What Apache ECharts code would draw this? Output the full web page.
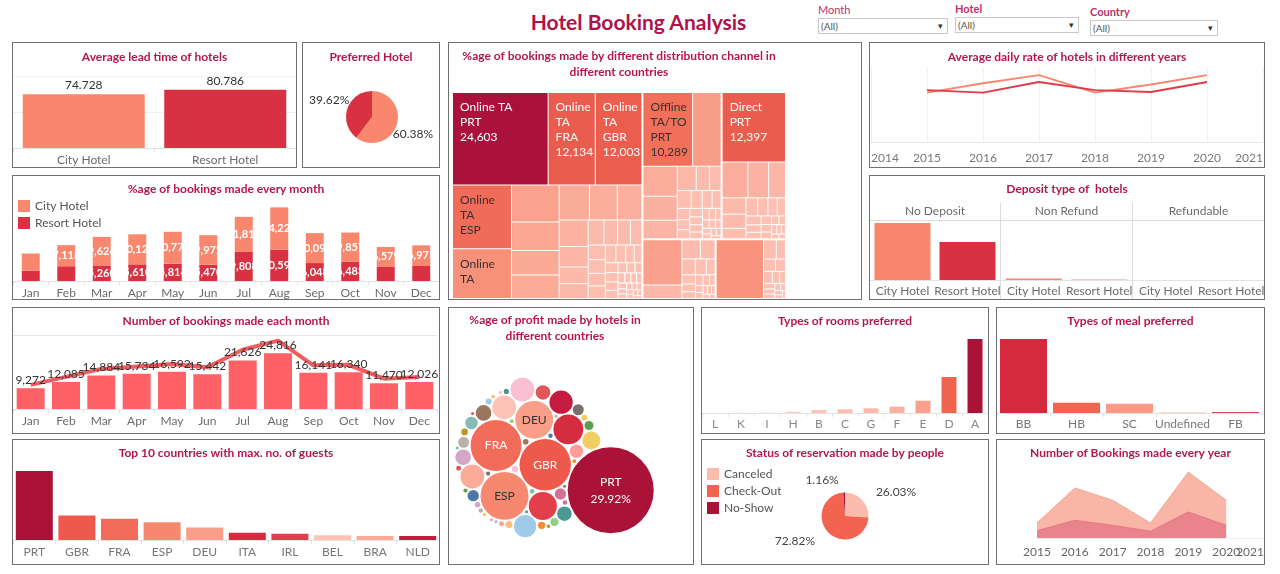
<!DOCTYPE html>
<html>
<head>
<meta charset="utf-8">
<script src="https://cdn.jsdelivr.net/npm/echarts@6/dist/echarts.min.js"></script>
<style>
  body { margin:0; width:1280px; height:574px; background:#fff; position:relative; overflow:hidden; font-family: Lato, "Noto Sans", sans-serif; }
  .panel { position:absolute; border:1px solid #707070; box-sizing:border-box; background:#fff; }
  .panel .c { position:absolute; left:0; top:0; right:0; bottom:0; }
  #title { position:absolute; left:0; width:1277px; top:9px; height:26px; line-height:26px; text-align:center; font-size:21px; font-weight:bold; color:#b0124a; }
  .flab { position:absolute; font-size:11px; color:#c0306a; }
  .fbox { position:absolute; border:1px solid #c8c8c8; box-sizing:border-box; font-size:10px; color:#555; padding-left:2px; line-height:14px; }
  .fbox span { position:absolute; right:4px; top:0; font-size:9px; color:#333; }
</style>
</head>
<body>
<div id="title">Hotel Booking Analysis</div>
<div class="flab" style="left:818px;top:3px">Month</div>
<div class="fbox" style="left:818px;top:18px;width:130px;height:16px">(All)<span>&#9662;</span></div>
<div class="flab" style="left:955px;top:2px;font-weight:bold">Hotel</div>
<div class="fbox" style="left:955px;top:17px;width:124px;height:16px">(All)<span>&#9662;</span></div>
<div class="flab" style="left:1090px;top:5px;font-weight:bold">Country</div>
<div class="fbox" style="left:1090px;top:20px;width:128px;height:16px">(All)<span>&#9662;</span></div>

<script>
// ---- data ----
const hotels = ['City Hotel', 'Resort Hotel'];
const leadTime = [74.728, 80.786];
const preferShare = [60.38, 39.62];

const adrYears = [2015, 2016, 2017, 2018, 2019, 2020];
const adrCity = [79, 94, 107, 79, 92, 107];
const adrResort = [83, 79, 96, 83, 80, 96];

const months = ['Jan','Feb','Mar','Apr','May','Jun','Jul','Aug','Sep','Oct','Nov','Dec'];
const cityMonth = [5802, 7118, 9624, 10124, 10778, 9972, 11818, 14224, 10093, 9857, 6579, 6971];
const resortMonth = [3470, 4967, 5260, 5610, 5814, 5470, 9808, 10592, 6048, 6483, 4891, 5055];
const monthBookings = [9272, 12085, 14884, 15734, 16592, 15442, 21626, 24816, 16141, 16340, 11470, 12026];

const depositTypes = ['No Deposit', 'Non Refund', 'Refundable'];
const depositCity = [66500, 1750, 60];
const depositResort = [44300, 300, 140];

const channels = ['Online TA', 'Offline TA/TO', 'Direct', 'Groups', 'Corporate'];
const onlineTaCountries = ['PRT','FRA','GBR','ESP','DEU','ITA','BEL','IRL','NLD','BRA','USA','CHE','CN','AUT','SWE','CHN','POL','ISR','RUS','NOR','ROU','FIN','DNK','AUS','LUX','AGO','TUR','HUN','JPN','ARG','GRC','CZE','KOR','IND','HRV','MAR','ZAF','MEX','LTU','EST','SRB','COL','IRN','CHL','NZL','SVN','UKR','DZA','LVA','SVK'];
const onlineTaBookings = [24603,12134,12003,10480,8150,4900,3800,3250,3100,2950,2700,2400,2150,1650,1350,1200,1100,950,900,800,700,650,600,600,520,480,420,380,350,330,300,290,250,230,200,190,170,160,150,140,120,110,100,95,90,85,80,75,70,65];
const offlineCountries = ['PRT','GBR','FRA','ESP','DEU','ITA','BEL','NLD','IRL','USA','CHE','AUT','SWE','POL','BRA','CN','RUS','NOR','ISR','DNK','FIN','ROU','LUX','JPN','CHN','AUS','HUN','GRC','CZE','TUR'];
const offlineBookings = [10289,5900,2900,2300,1800,1300,900,800,700,550,500,450,400,350,320,300,280,260,240,220,200,180,160,150,140,130,120,110,100,90];
const directCountries = ['PRT','ESP','FRA','GBR','DEU','ITA','IRL','BEL','NLD','USA','BRA','CHE','AUT','CN','SWE','POL','RUS','NOR','ISR','DNK','FIN','AUS','ROU','LUX'];
const directBookings = [12397,2600,2100,1700,1100,950,700,600,520,480,420,380,320,280,250,220,200,180,160,140,120,110,100,90];
const groupsCountries = ['PRT','ESP','FRA','GBR','DEU','ITA','BEL','NLD','IRL','BRA','USA','CHE','AUT','POL','RUS','CN','SWE','NOR','AGO','ROU'];
const groupsBookings = [5000,1500,1000,800,600,500,400,350,300,260,230,200,170,150,130,110,100,90,80,70];
const corporateCountries = ['PRT','ESP','FRA','GBR','DEU','ITA','BEL','NLD','IRL','USA','CHE','BRA','AUT','SWE','POL','NOR'];
const corporateBookings = [7900,700,500,420,350,300,250,200,180,160,140,120,100,90,80,70];

const bubbleCountries = ['PRT','GBR','FRA','ESP','DEU','ITA','IRL','BEL','BRA','NLD','USA','CHE','CN','AUT','SWE','CHN','POL','ISR','RUS','NOR','ROU','FIN','DNK','AUS','LUX','AGO','TUR','HUN','JPN','ARG','GRC','CZE','KOR','IND','HRV','MAR','ZAF','MEX','LTU','EST','SRB','COL','IRN','CHL','NZL','SVN','UKR','DZA','LVA','SVK','CYP','TWN','ISL','BGR','SAU'];
const bubbleShare = [29.92,10.7,10.5,9.3,5.8,3.6,3.2,2.3,2.3,2.2,2.3,2.0,1.3,1.0,1.0,0.86,0.86,0.73,0.64,0.52,0.52,0.49,0.49,0.33,0.26,0.22,0.2,0.18,0.16,0.15,0.14,0.13,0.12,0.11,0.1,0.1,0.09,0.09,0.08,0.08,0.07,0.07,0.06,0.06,0.06,0.05,0.05,0.05,0.05,0.04,0.04,0.04,0.04,0.04,0.04];

const roomTypes = ['L','K','I','H','B','C','G','F','E','D','A'];
const roomBookings = [10, 200, 300, 1300, 3000, 3700, 4700, 6300, 12300, 36000, 74000];

const mealTypes = ['BB','HB','SC','Undefined','FB'];
const mealBookings = [92300, 12800, 11400, 1000, 1300];

const topCountries = ['PRT','GBR','FRA','ESP','DEU','ITA','IRL','BEL','BRA','NLD'];
const topGuests = [48000, 17100, 14800, 12400, 8700, 5100, 4400, 3300, 2800, 2800];

const statusNames = ['Canceled', 'Check-Out', 'No-Show'];
const statusShare = [26.03, 72.82, 1.16];

const yearLabels = ['2015', '2016', '2017', '2018', '2019', '2020', '2021'];
const yearResort = [7300, 17700, 12700, 6700, 26000, 12700];
const yearCity = [7700, 32300, 25000, 8300, 40000, 25000];

// ---- styling ----
const FONT = 'Lato, "Noto Sans", sans-serif';
const TITLE_COLOR = '#b5164f';
const AXIS_TXT = '#6b6b6b';
const CITY = '#f8876e', RESORT = '#d93141';
const countryColor = { PRT:'#ab1238', GBR:'#ef594b', FRA:'#f36c59', ESP:'#f78870', DEU:'#fa9e89',
  ITA:'#d52d3f', IRL:'#e33e4b', BEL:'#fdc3b6', BRA:'#fcab9a', NLD:'#c41c3e' };
const otherColors = ['#86bcb6','#d37295','#4e79a7','#bab0ac','#79706e','#59a14f','#8cd17d','#f28e2b',
  '#ffbe7d','#b6992d','#fabfd2','#a0cbe8','#f1ce63','#9d7660','#d4a6c8','#499894','#e15759','#ff9d9a'];
const mealColors = ['#d5293e','#f06450','#fb9b85','#fdcbc0','#e44650'];
const statusColors = ['#fcbcad','#f26450','#ab1238'];

function hex(c) { return [1,3,5].map(i => parseInt(c.slice(i, i+2), 16)); }
function ramp(stops, v) {
  if (v <= stops[0][0]) return stops[0][1];
  for (let i = 1; i < stops.length; i++) {
    if (v <= stops[i][0]) {
      const t = (v - stops[i-1][0]) / (stops[i][0] - stops[i-1][0]);
      const a = hex(stops[i-1][1]), b = hex(stops[i][1]);
      return 'rgb(' + a.map((x, k) => Math.round(x + (b[k]-x)*t)).join(',') + ')';
    }
  }
  return stops[stops.length-1][1];
}
const treeStops = [[0,'#fdc3b6'],[3000,'#fbab99'],[8000,'#f8937c'],[11000,'#f06450'],[25000,'#a8103a']];
const roomStops = [[0,'#fed3c8'],[6000,'#fcb1a1'],[12300,'#fba08c'],[36000,'#f06450'],[74000,'#ab1238']];

function mk(l, t, w, h) {
  const d = document.createElement('div');
  d.className = 'panel';
  d.style.cssText = `left:${l}px;top:${t}px;width:${w}px;height:${h}px`;
  const c = document.createElement('div');
  c.className = 'c';
  d.appendChild(c);
  document.body.appendChild(d);
  return echarts.init(c);
}
function title(text, top, left) {
  const t = { text, top, padding: 0, left: left == null ? 'center' : left,
    textStyle: { fontFamily: FONT, fontSize: 12, fontWeight: 'bold', color: TITLE_COLOR, lineHeight: 16 } };
  if (left != null) t.textAlign = 'center';
  return t;
}
function catAxis(data, extra) {
  return Object.assign({
    type: 'category', data,
    axisLine: { lineStyle: { color: '#e2e2e2' } },
    axisTick: { show: true, length: 4, lineStyle: { color: '#e2e2e2' } },
    axisLabel: { color: AXIS_TXT, fontSize: 12, fontFamily: FONT, margin: 6, interval: 0 }
  }, extra || {});
}
const hiddenY = (o) => Object.assign({ type: 'value', axisLabel: { show: false }, axisLine: { show: false }, axisTick: { show: false }, splitLine: { show: false } }, o || {});
const G = (o) => Object.assign({ outerBoundsMode: 'none', containLabel: false }, o);
const fmt = v => v.toLocaleString('en-US');
const legendStyle = { orient: 'vertical', left: 5, padding: 0, itemWidth: 12, itemHeight: 12, itemGap: 5, icon: 'rect',
  textStyle: { fontSize: 12, color: '#555', fontFamily: FONT } };

// 1. Average lead time
mk(12, 42, 285, 126).setOption({
  animation: false,
  title: title('Average lead time of hotels', 6),
  grid: G({ left: 0, right: 0, top: 33, bottom: 19 }),
  xAxis: catAxis(hotels),
  yAxis: hiddenY({ min: 0, max: 100, interval: 50, splitLine: { show: true, lineStyle: { color: '#f0f0f0' } } }),
  series: [{ type: 'bar', barWidth: 122,
    data: leadTime.map((v, i) => ({ value: v, itemStyle: { color: [CITY, RESORT][i] } })),
    label: { show: true, position: 'top', distance: 3, color: '#333', fontSize: 12, fontFamily: FONT } }]
});

// 2. Preferred hotel
mk(302, 42, 138, 126).setOption({
  animation: false,
  title: title('Preferred Hotel', 6),
  color: [CITY, RESORT],
  series: [{ type: 'pie', center: [69, 74], radius: 26, startAngle: 90, clockwise: true,
    data: hotels.map((n, i) => ({ name: n, value: preferShare[i] })),
    label: { formatter: p => p.value.toFixed(2) + '%', fontSize: 12, color: '#333', fontFamily: FONT,
      alignTo: 'edge', edgeDistance: 6, overflow: 'none' },
    labelLine: { show: false, length: 26, length2: 0 } }]
});

// 3. Treemap
const chanCountries = [onlineTaCountries, offlineCountries, directCountries, groupsCountries, corporateCountries];
const chanBookings = [onlineTaBookings, offlineBookings, directBookings, groupsBookings, corporateBookings];
const treeData = channels.map((ch, i) => ({
  name: ch,
  children: chanCountries[i].map((c, j) => {
    const v = chanBookings[i][j];
    return { name: c, value: v, itemStyle: { color: ramp(treeStops, v) },
      label: { color: v >= 11000 ? '#fff' : '#333' } };
  })
}));
mk(448, 42, 414, 258).setOption({
  animation: false,
  title: title('%age of bookings made by different distribution channel in\ndifferent countries', 5, 170),
  series: [{ type: 'treemap', left: 4, top: 50, width: 332, height: 205,
    roam: false, nodeClick: false, breadcrumb: { show: false }, visibleMin: 1,
    data: treeData,
    label: { show: true, position: 'insideTopLeft', distance: 2, fontSize: 12, fontFamily: FONT, lineHeight: 15,
      overflow: 'none', lineOverflow: 'truncate', ellipsis: '',
      formatter: p => {
        if (p.value < 8000) return '';
        const ch = p.treePathInfo[1].name;
        return (p.value < 20000 ? ch.split(' ').join('\n') : ch) + '\n' + p.name + '\n' + fmt(p.value);
      } },
    upperLabel: { show: false },
    levels: [
      { itemStyle: { borderWidth: 0, gapWidth: 2, borderColor: '#fff' } },
      { itemStyle: { borderWidth: 0, gapWidth: 1, borderColor: '#fff' } },
      { itemStyle: { borderWidth: 0 } }
    ] }]
});

// 4. ADR by year
mk(869, 42, 396, 126).setOption({
  animation: false,
  title: title('Average daily rate of hotels in different years', 6),
  grid: G({ left: 1, right: 1, top: 24, bottom: 25 }),
  xAxis: { type: 'value', min: 2014, max: 2021, interval: 1,
    axisLine: { show: true, lineStyle: { color: '#e8e8e8' } }, axisTick: { show: false },
    splitLine: { show: true, lineStyle: { color: '#f0f0f0' } },
    axisLabel: { color: '#777', fontSize: 12, fontFamily: FONT, margin: 10, formatter: v => String(v), alignMinLabel: 'left', alignMaxLabel: 'right' } },
  yAxis: hiddenY({ min: 0, max: 120 }),
  series: [
    { name: 'City Hotel', type: 'line', symbol: 'none', data: adrYears.map((y, i) => [y, adrCity[i]]), lineStyle: { color: CITY, width: 2 } },
    { name: 'Resort Hotel', type: 'line', symbol: 'none', data: adrYears.map((y, i) => [y, adrResort[i]]), lineStyle: { color: '#e03a4a', width: 2 } }
  ]
});

// 5. % bookings every month (stacked)
mk(12, 175, 428, 125).setOption({
  animation: false,
  title: title('%age of bookings made every month', 5),
  legend: Object.assign({ top: 24, data: ['City Hotel', 'Resort Hotel'] }, legendStyle),
  grid: G({ left: 0, right: 0, top: 16, bottom: 18 }),
  xAxis: catAxis(months),
  yAxis: hiddenY({ min: 0, max: 30000 }),
  series: [
    { name: 'Resort Hotel', type: 'bar', stack: 'm', barWidth: 18, data: resortMonth, itemStyle: { color: RESORT },
      label: { show: true, position: 'inside', color: '#fff', fontWeight: 'bold', fontSize: 11, fontFamily: FONT,
        formatter: p => p.value >= 5200 ? fmt(p.value) : '' } },
    { name: 'City Hotel', type: 'bar', stack: 'm', barWidth: 18, data: cityMonth, itemStyle: { color: CITY },
      label: { show: true, position: 'inside', color: '#fff', fontWeight: 'bold', fontSize: 11, fontFamily: FONT,
        formatter: p => p.value >= 6500 ? fmt(p.value) : '' } }
  ]
});

// 6. Deposit type
const depGrids = [{ left: 0, width: 130 }, { left: 131, width: 131 }, { left: 263, width: 131 }]
  .map(g => G(Object.assign({ top: 44, bottom: 19 }, g)));
const depX = [], depY = [], depS = [];
depositTypes.forEach((d, i) => {
  depX.push(catAxis(hotels, { gridIndex: i, axisTick: { show: false }, axisLabel: { color: AXIS_TXT, fontSize: 12, fontFamily: FONT, margin: 5, interval: 0 } }));
  depX.push({ type: 'category', gridIndex: i, position: 'top', data: [d], axisTick: { show: false },
    axisLine: { lineStyle: { color: '#dcdcdc' } }, axisLabel: { color: AXIS_TXT, fontSize: 12, fontFamily: FONT, margin: 3 } });
  depY.push(hiddenY({ gridIndex: i, min: 0, max: 70000 }));
  depS.push({ type: 'bar', xAxisIndex: i * 2, yAxisIndex: i, barWidth: 56,
    data: [depositCity[i], depositResort[i]].map((v, k) => ({ value: v, itemStyle: { color: [CITY, RESORT][k] } })) });
});
mk(869, 175, 396, 125).setOption({
  animation: false,
  title: title('Deposit type of  hotels', 5),
  grid: depGrids, xAxis: depX, yAxis: depY, series: depS,
  graphic: [130.5, 262.5].map(x => ({ type: 'line', shape: { x1: x, y1: 27, x2: x, y2: 123 }, style: { stroke: '#dcdcdc', lineWidth: 1 } }))
});

// 7. Number of bookings each month
mk(12, 307, 428, 127).setOption({
  animation: false,
  title: title('Number of bookings made each month', 5),
  grid: G({ left: 0, right: 2, top: 27, bottom: 24 }),
  xAxis: catAxis(months),
  yAxis: [hiddenY({ min: 0, max: 33000, interval: 33000, splitLine: { show: true, lineStyle: { color: '#e6e6e6' } } }),
          hiddenY({ min: 800, max: 26800 })],
  series: [
    { type: 'line', yAxisIndex: 1, z: 1, symbol: 'none', data: monthBookings, lineStyle: { color: '#f15c5f', width: 4 } },
    { type: 'bar', yAxisIndex: 0, z: 2, barWidth: 28, data: monthBookings, itemStyle: { color: '#fe6166' },
      label: { show: true, position: 'top', distance: 2, color: '#333', fontSize: 12, fontFamily: FONT, formatter: p => fmt(p.value) } }
  ]
});

// 8. Packed bubbles
function pack(radii, pad, attractor) {
  const placed = [];
  radii.forEach((r0, i) => {
    const r = r0 + pad;
    if (i === 0) { placed.push({ x: 0, y: 0, r }); return; }
    let best = null, bestD = Infinity;
    const tryPos = (x, y) => {
      for (const c of placed) if (Math.hypot(x - c.x, y - c.y) < c.r + r - 1e-6) return;
      const d = Math.hypot(x - attractor[0], y - attractor[1]);
      if (d < bestD) { bestD = d; best = { x, y, r }; }
    };
    for (const a of placed) {
      const dx = attractor[0] - a.x, dy = attractor[1] - a.y, L = Math.hypot(dx, dy) || 1;
      tryPos(a.x + dx / L * (a.r + r), a.y + dy / L * (a.r + r));
    }
    for (let p = 0; p < placed.length; p++) for (let q = p + 1; q < placed.length; q++) {
      const A = placed[p], B = placed[q];
      const d = Math.hypot(B.x - A.x, B.y - A.y), ra = A.r + r, rb = B.r + r;
      if (d === 0 || d > ra + rb || d < Math.abs(ra - rb)) continue;
      const a = (ra * ra - rb * rb + d * d) / (2 * d), h = Math.sqrt(Math.max(0, ra * ra - a * a));
      const mx = A.x + a * (B.x - A.x) / d, my = A.y + a * (B.y - A.y) / d;
      tryPos(mx + h * (B.y - A.y) / d, my - h * (B.x - A.x) / d);
      tryPos(mx - h * (B.y - A.y) / d, my + h * (B.x - A.x) / d);
    }
    placed.push(best);
  });
  return placed;
}
const bubbleR = bubbleShare.map(v => 7.86 * Math.sqrt(v));
const packed = pack(bubbleR, 0.8, [-82, -32]);
let bx0 = Infinity, bx1 = -Infinity, by0 = Infinity, by1 = -Infinity;
packed.forEach(p => { bx0 = Math.min(bx0, p.x - p.r); bx1 = Math.max(bx1, p.x + p.r); by0 = Math.min(by0, p.y - p.r); by1 = Math.max(by1, p.y + p.r); });
const sx = 105.5 - (bx0 + bx1) / 2, sy = 149.5 - (by0 + by1) / 2;
mk(448, 307, 246, 258).setOption({
  animation: false,
  title: title('%age of profit made by hotels in\ndifferent countries', 4, 106),
  grid: G({ left: 0, right: 0, top: 0, bottom: 0 }),
  xAxis: { type: 'value', min: 0, max: 244, show: false },
  yAxis: { type: 'value', min: 0, max: 256, inverse: true, show: false },
  series: [{ type: 'scatter',
    data: packed.map((p, i) => {
      const v = bubbleShare[i];
      return { name: bubbleCountries[i], value: [p.x + sx, p.y + sy, v], symbolSize: 2 * bubbleR[i],
        itemStyle: { color: countryColor[bubbleCountries[i]] || otherColors[i % otherColors.length], opacity: 1 },
        label: { color: v >= 10 ? '#fff' : '#333' } };
    }),
    label: { show: true, position: 'inside', fontSize: 12, fontFamily: FONT, lineHeight: 17,
      formatter: p => { const v = p.value[2]; return v >= 20 ? p.name + '\n' + v.toFixed(2) + '%' : (v >= 5 ? p.name : ''); } } }]
});

// 9. Rooms
mk(701, 307, 288, 127).setOption({
  animation: false,
  title: title('Types of rooms preferred', 5),
  grid: G({ left: 0, right: 0, top: 31, bottom: 20 }),
  xAxis: catAxis(roomTypes, { axisLabel: { color: '#888', fontSize: 12, fontFamily: FONT, margin: 5, interval: 0 } }),
  yAxis: hiddenY({ min: 0, max: 'dataMax' }),
  series: [{ type: 'bar', barWidth: 15, data: roomBookings.map(v => ({ value: v, itemStyle: { color: ramp(roomStops, v) } })) }]
});

// 10. Meals
mk(996, 307, 269, 127).setOption({
  animation: false,
  title: title('Types of meal preferred', 5),
  grid: G({ left: 0, right: 2, top: 31, bottom: 20 }),
  xAxis: catAxis(mealTypes, { axisLabel: { color: '#777', fontSize: 12, fontFamily: FONT, margin: 5, interval: 0 } }),
  yAxis: hiddenY({ min: 0, max: 'dataMax' }),
  series: [{ type: 'bar', barWidth: 47, data: mealBookings.map((v, i) => ({ value: v, itemStyle: { color: mealColors[i] } })) }]
});

// 11. Top 10 countries
mk(12, 439, 428, 126).setOption({
  animation: false,
  title: title('Top 10 countries with max. no. of guests', 5),
  grid: G({ left: 0, right: 0, top: 31, bottom: 24 }),
  xAxis: catAxis(topCountries, { axisLabel: { color: '#777', fontSize: 12, fontFamily: FONT, margin: 6, interval: 0 } }),
  yAxis: hiddenY({ min: 0, max: 'dataMax' }),
  series: [{ type: 'bar', barWidth: 37, data: topGuests.map((v, i) => ({ value: v, itemStyle: { color: countryColor[topCountries[i]] } })) }]
});

// 12. Reservation status
mk(701, 439, 288, 126).setOption({
  animation: false,
  title: title('Status of reservation made by people', 5),
  color: statusColors,
  legend: Object.assign({ top: 28, data: statusNames }, legendStyle),
  series: [{ type: 'pie', center: [143, 76], radius: 23.5, startAngle: 90, clockwise: true,
    data: statusNames.map((n, i) => ({ name: n, value: statusShare[i] })),
    label: { formatter: p => p.value.toFixed(2) + '%', fontSize: 12, color: '#444', fontFamily: FONT, overflow: 'none' },
    labelLine: { show: false, length: 12, length2: 0 } }]
});

// 13. Bookings every year
mk(996, 439, 269, 126).setOption({
  animation: false,
  title: title('Number of Bookings made every year', 5),
  grid: G({ left: 40, right: 0, top: 23, bottom: 26 }),
  xAxis: { type: 'category', data: yearLabels, boundaryGap: false,
    axisLine: { show: true, lineStyle: { color: '#eeeeee' } }, axisTick: { show: false }, splitLine: { show: false },
    axisLabel: { color: '#666', fontSize: 12, fontFamily: FONT, margin: 8, interval: 0, alignMaxLabel: 'right' } },
  yAxis: hiddenY({ min: 0, max: 75000 }),
  series: [
    { name: 'Resort Hotel', type: 'line', stack: 'y', symbol: 'none', data: yearResort,
      lineStyle: { color: '#e6727d', width: 1 }, areaStyle: { color: '#e9848c', opacity: 1 } },
    { name: 'City Hotel', type: 'line', stack: 'y', symbol: 'none', data: yearCity,
      lineStyle: { color: '#f6a593', width: 1 }, areaStyle: { color: '#f9b5a6', opacity: 1 } }
  ]
});
</script>
</body>
</html>
